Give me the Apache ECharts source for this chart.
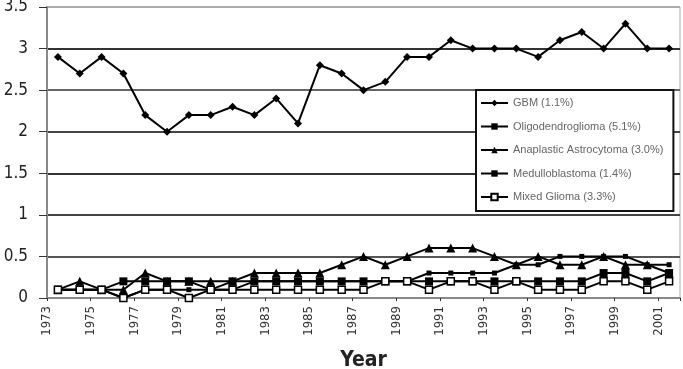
<!DOCTYPE html>
<html>
<head>
<meta charset="utf-8">
<script src="https://cdn.jsdelivr.net/npm/echarts/dist/echarts.min.js"></script>
<style>
html,body{margin:0;padding:0;background:#fff;}
#chart{width:683px;height:369px;}
</style>
</head>
<body>
<div id="chart"></div>
<script>
var years = ['1973','1974','1975','1976','1977','1978','1979','1980','1981','1982','1983','1984','1985','1986','1987','1988','1989','1990','1991','1992','1993','1994','1995','1996','1997','1998','1999','2000','2001'];
var tickLabels = years.concat(['']);
var gbm = [2.9,2.7,2.9,2.7,2.2,2.0,2.2,2.2,2.3,2.2,2.4,2.1,2.8,2.7,2.5,2.6,2.9,2.9,3.1,3.0,3.0,3.0,2.9,3.1,3.2,3.0,3.3,3.0,3.0];
var oligodendroglioma = [0.1,0.1,0.1,0.0,0.1,0.1,0.1,0.1,0.1,0.2,0.2,0.2,0.2,0.2,0.2,0.2,0.2,0.3,0.3,0.3,0.3,0.4,0.4,0.5,0.5,0.5,0.5,0.4,0.4];
var anaplastic = [0.1,0.2,0.1,0.1,0.3,0.2,0.2,0.2,0.2,0.3,0.3,0.3,0.3,0.4,0.5,0.4,0.5,0.6,0.6,0.6,0.5,0.4,0.5,0.4,0.4,0.5,0.4,0.4,0.3];
var medulloblastoma = [0.1,0.1,0.1,0.2,0.2,0.2,0.2,0.1,0.2,0.2,0.2,0.2,0.2,0.2,0.2,0.2,0.2,0.2,0.2,0.2,0.2,0.2,0.2,0.2,0.2,0.3,0.3,0.2,0.3];
var mixedGlioma = [0.1,0.1,0.1,0.0,0.1,0.1,0.0,0.1,0.1,0.1,0.1,0.1,0.1,0.1,0.1,0.2,0.2,0.1,0.2,0.2,0.1,0.2,0.1,0.1,0.1,0.2,0.2,0.1,0.2];
var seriesNames = ['GBM (1.1%)','Oligodendroglioma (5.1%)','Anaplastic Astrocytoma (3.0%)','Medulloblastoma (1.4%)','Mixed Glioma (3.3%)'];
var yTicks = [0, 0.5, 1, 1.5, 2, 2.5, 3, 3.5];

var narrow = '"Liberation Sans Narrow","Arial Narrow","DejaVu Sans Condensed",sans-serif';

function mk(name, data, symbol, size, fill) {
  return {
    name: name, type: 'line', data: data, xAxisIndex: 0,
    symbol: symbol, symbolSize: size,
    lineStyle: {color: '#000', width: 2},
    itemStyle: {color: fill, borderColor: '#000', borderWidth: fill === '#fff' ? 1.5 : 0},
    animation: false
  };
}

var chart = echarts.init(document.getElementById('chart'));
chart.setOption({
  animation: false,
  grid: {left: 47, right: 3, top: 7, bottom: 71, containLabel: false, outerBoundsMode: 'none',
         show: true, borderColor: '#aaa', borderWidth: 1, backgroundColor: 'transparent'},
  xAxis: [{
    type: 'category', data: years, boundaryGap: true, position: 'bottom',
    axisLine: {lineStyle: {color: '#888', width: 2}},
    axisTick: {show: true, length: 3, lineStyle: {color: '#333'}},
    axisLabel: {show: false},
    name: 'Year', nameLocation: 'middle', nameGap: 52,
    nameTextStyle: {fontFamily: narrow, fontSize: 21, fontWeight: 'bold', color: '#222'}
  }, {
    type: 'category', data: tickLabels, boundaryGap: false, position: 'bottom',
    axisLine: {show: false}, axisTick: {show: false}, splitLine: {show: false},
    axisLabel: {rotate: 90, interval: 1, fontFamily: narrow, fontSize: 13, color: '#333', margin: 8}
  }],
  yAxis: {
    type: 'value', min: yTicks[0], max: yTicks[yTicks.length - 1], interval: 0.5,
    axisLine: {show: true, lineStyle: {color: '#888', width: 2}},
    axisTick: {show: true, length: 8, lineStyle: {color: '#333'}},
    axisLabel: {fontFamily: narrow, fontSize: 17, color: '#222', margin: 19},
    splitLine: {lineStyle: {color: ['#888', '#555', '#444', '#333', '#444', '#666', '#333', '#aaa'], width: 2}}
  },
  legend: {
    orient: 'vertical', left: 476, top: 90,
    backgroundColor: '#fff', borderColor: '#111', borderWidth: 2,
    padding: [6, 10, 7, 4],
    itemWidth: 27, itemHeight: 8, itemGap: 9.5,
    textStyle: {fontFamily: 'Liberation Sans, Arial, sans-serif', fontSize: 11, color: '#666', lineHeight: 14},
    data: seriesNames
  },
  series: [
    mk(seriesNames[0], gbm, 'diamond', 8, '#000'),
    mk(seriesNames[1], oligodendroglioma, 'rect', 5, '#000'),
    mk(seriesNames[2], anaplastic, 'triangle', 9, '#000'),
    mk(seriesNames[3], medulloblastoma, 'rect', 8, '#000'),
    mk(seriesNames[4], mixedGlioma, 'rect', 7, '#fff')
  ]
});
</script>
</body>
</html>
